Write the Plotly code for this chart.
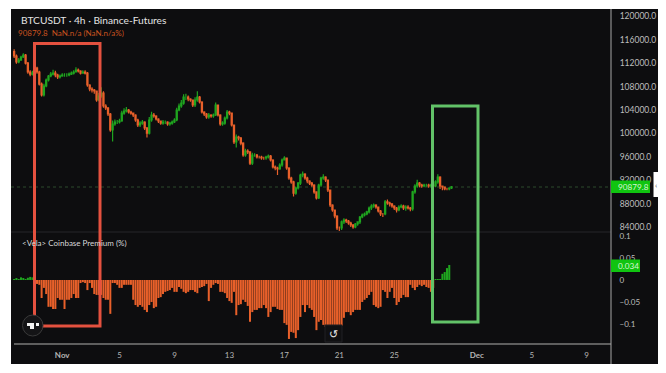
import plotly.graph_objects as go
import pandas as pd

W, H = 666, 373

start_time = "2025-10-28 08:00"
opens = [114000,113240,112220,112560,113070,113410,112040,110510,110160,110330,
 111190,110510,108450,106570,108110,109140,109820,110160,110330,109990,
 109650,109820,109990,109990,109990,110160,110330,110510,110850,110680,
 110330,110510,110330,108280,107600,107430,107260,105720,106400,106910,
 104690,104350,103320,100590,101610,101960,101960,102130,103490,103840,
 104010,103670,103490,103150,102300,101440,101780,101960,100930,100070,
 102300,103150,102980,102470,102130,101780,101960,101960,101610,101780,
 101960,102300,104010,104690,105200,106230,106230,105890,105720,104860,
 105720,106230,105380,103670,103320,102810,103150,102980,103150,104860,
 103150,101610,101780,102640,103670,103490,101440,98540,99390,99220,
 98360,96310,97000,96830,94940,96310,96310,95970,95970,95800,
 95800,95970,96140,95460,94260,94090,93920,94600,95460,95800,
 94090,92380,91700,89810,90670,91520,92890,93060,92380,91870,
 91520,91180,89990,88960,91180,92380,92550,92040,90330,87760,
 86910,85880,83830,83830,84860,85200,85030,84680,84340,84000,
 84510,84860,85710,86050,86220,86570,87250,87590,87760,87420,
 86740,86220,86220,88280,88100,87930,87590,87250,86910,87420,
 87590,87250,87420,87250,87080,89990,91010,91520,91180,91010,
 91180,91180,91010,91180,91010,91700,92550,91010,90840,90500,90500,90670]
closes = [113240,112220,112560,113070,113410,112040,110510,110160,110330,111190,
 110510,108450,106570,108110,109140,109820,110160,110330,109990,109650,
 109820,109990,109990,109990,110160,110330,110510,110850,110680,110330,
 110510,110330,108280,107600,107430,107260,105720,106400,106910,104690,
 104350,103320,100590,101610,101960,101960,102130,103490,103840,104010,
 103670,103490,103150,102300,101440,101780,101960,100930,100070,102300,
 103150,102980,102470,102130,101780,101960,101960,101610,101780,101960,
 102300,104010,104690,105200,106230,106230,105890,105720,104860,105720,
 106230,105380,103670,103320,102810,103150,102980,103150,104860,103150,
 101610,101780,102640,103670,103490,101440,98540,99390,99220,98360,
 96310,97000,96830,94940,96310,96310,95970,95970,95800,95800,
 95970,96140,95460,94260,94090,93920,94600,95460,95800,94090,
 92380,91700,89810,90670,91520,92890,93060,92380,91870,91520,
 91180,89990,88960,91180,92380,92550,92040,90330,87760,86910,
 85880,83830,83830,84860,85200,85030,84680,84340,84000,84510,
 84860,85710,86050,86220,86570,87250,87590,87760,87420,86740,
 86220,86220,88280,88100,87930,87590,87250,86910,87420,87590,
 87250,87420,87250,87080,89990,91010,91520,91180,91010,91180,
 91180,91010,91180,91010,91700,92550,91010,90840,90500,90500,90670,90879.8]
highs = [114400,113500,112900,113300,113700,113600,112200,110800,110700,111600,
 111400,110700,108700,108500,109400,110000,110500,110900,110700,110200,
 110100,110300,110300,110300,110400,110600,110800,111300,111100,110800,
 110800,110800,110500,108400,107900,107600,107300,106900,107900,107200,
 105000,104500,103500,102200,102400,102300,102500,103900,104300,104500,
 104200,103900,103600,103300,102500,102100,102300,102100,101100,102800,
 103700,103500,103100,102600,102200,102300,102200,102100,102000,102200,
 102600,104400,105100,105700,106700,106800,106500,106000,105800,106200,
 107200,106400,105500,103800,103500,103500,103300,103400,105300,104900,
 103300,102100,102900,104000,103900,103600,101500,99800,99600,99400,
 98500,97400,97300,96900,96700,96600,96500,96200,96200,96000,
 96200,96400,96300,95600,94500,94300,94900,95700,96100,95900,
 94200,92600,91900,90900,91700,93100,93500,93200,92600,92000,
 91700,91300,90100,91400,92600,93000,92700,92100,90400,87900,
 87000,86000,84100,85100,85500,85400,85200,84900,84500,84700,
 85000,85900,86300,86500,86800,87500,87900,88000,87900,87500,
 86900,86400,88600,88700,88300,88100,87700,87400,87700,87900,
 87800,87700,87700,87400,90200,91300,92100,91700,91400,91400,
 91400,91400,91400,91300,92000,93000,92700,91100,90900,90700,90800,91000]
lows = [112900,111900,112000,112400,112900,111800,110200,109800,109900,110200,
 110200,108200,106300,106300,107900,108900,109600,109900,109600,109300,
 109400,109700,109700,109700,109800,110000,110100,110400,110400,110100,
 110200,110100,108000,107200,107000,106800,105400,105500,106100,104400,
 104000,103000,100300,98600,101300,101600,101700,102000,103200,103600,
 103400,103200,102800,102000,101100,101100,101500,100600,99300,99800,
 102000,102700,102200,101800,101500,101500,101600,101300,101300,101500,
 101800,102100,103800,104400,104900,105700,105500,105400,104500,104500,
 105400,105100,103400,103000,102500,102500,102700,102700,103000,102900,
 101300,101300,101500,102400,103100,101200,98200,97600,98800,98000,
 96000,96000,96500,94600,94600,96000,95700,95700,95500,95500,
 95500,95700,95200,94000,93700,92900,93800,94300,95400,93800,
 92100,91400,89200,89500,90400,91200,92500,92100,91500,91200,
 90900,89700,88700,88800,90900,92100,91700,90000,87400,86600,
 85500,83500,83300,83500,84500,84700,84400,84000,83700,83800,
 84200,84500,85500,85800,86000,86300,86900,87300,87100,86500,
 85900,85700,86000,87800,87500,87300,86900,86500,86700,87200,
 86900,86800,87000,86700,86800,89700,90700,90800,90700,90800,
 90900,90700,90700,90700,90800,91400,90500,90300,90300,90300,90300,90500]
premium = [0.002,0.003,0.001,0.006,0.004,0.001,0.005,0.007,0.006,
 -0.007,-0.009,-0.011,-0.041,-0.018,-0.032,-0.061,-0.061,-0.066,-0.066,
 -0.041,-0.045,-0.045,-0.066,-0.045,-0.045,-0.041,-0.032,-0.041,-0.041,
 -0.007,-0.005,-0.007,-0.023,-0.007,-0.018,-0.032,-0.034,-0.034,-0.034,
 -0.041,-0.045,-0.045,-0.077,-0.007,-0.007,-0.011,-0.018,-0.018,-0.011,
 -0.011,-0.011,-0.011,-0.045,-0.057,-0.061,-0.057,-0.061,-0.068,-0.073,
 -0.057,-0.050,-0.064,-0.061,-0.041,-0.039,-0.032,-0.027,-0.025,-0.023,
 -0.018,-0.027,-0.027,-0.016,-0.020,-0.027,-0.030,-0.027,-0.023,-0.023,
 -0.027,-0.030,-0.018,-0.016,-0.014,-0.009,-0.048,-0.018,-0.011,-0.007,
 -0.009,-0.027,-0.027,-0.030,-0.041,-0.048,-0.052,-0.027,-0.080,-0.057,
 -0.055,-0.045,-0.050,-0.059,-0.095,-0.073,-0.068,-0.068,-0.064,-0.064,
 -0.057,-0.064,-0.084,-0.073,-0.061,-0.061,-0.066,-0.068,-0.068,-0.098,
 -0.102,-0.134,-0.118,-0.120,-0.132,-0.114,-0.084,-0.057,-0.073,-0.057,
 -0.064,-0.068,-0.084,-0.114,-0.095,-0.091,-0.102,-0.107,-0.104,-0.107,
 -0.104,-0.104,-0.104,-0.104,-0.104,-0.086,-0.073,-0.073,-0.080,-0.073,
 -0.068,-0.068,-0.068,-0.050,-0.045,-0.041,-0.034,-0.027,-0.057,-0.061,
 -0.064,-0.061,-0.023,-0.027,-0.041,-0.027,-0.018,-0.041,-0.057,-0.050,
 -0.041,-0.034,-0.039,-0.039,-0.011,-0.018,-0.023,-0.016,-0.011,-0.014,
 -0.011,-0.016,-0.018,-0.027,-0.018,
 0.002,0.002,0.001,0.014,0.018,0.027,0.034]

price_ticks = [120000,116000,112000,108000,104000,100000,96000,92000,88000,84000]
prem_ticks = [0.1,0.05,0,-0.05,-0.1]
prem_labels = ["0.1","0.05","0","−0.05","−0.1"]
date_ticks = ["2025-10-31 20:00","2025-11-05","2025-11-09","2025-11-13","2025-11-17","2025-11-21","2025-11-25","2025-12-01","2025-12-05","2025-12-09"]
date_labels = ["<b>Nov</b>","5","9","13","17","21","25","<b>Dec</b>","5","9"]

times = pd.date_range(start_time, periods=len(closes), freq="4h")
FONT = "Lato"
UP, DOWN = "#1fa51f", "#e8602a"

def px(x): return x / W
def py(y): return 1 - y / H

fig = go.Figure()
fig.add_trace(go.Candlestick(x=times, open=opens, high=highs, low=lows, close=closes,
    increasing=dict(line=dict(color=UP, width=1.2), fillcolor=UP),
    decreasing=dict(line=dict(color=DOWN, width=1.2), fillcolor=DOWN),
    whiskerwidth=0, yaxis="y", xaxis="x", showlegend=False))
fig.add_trace(go.Bar(x=times, y=premium, marker=dict(color=[UP if v >= 0 else DOWN for v in premium], line=dict(width=0)),
    yaxis="y2", xaxis="x", showlegend=False))

def rect(x0, y0, x1, y1, **kw):
    fig.add_shape(type="rect", xref="paper", yref="paper", x0=px(x0), x1=px(x1), y0=py(y0), y1=py(y1), **kw)
def line(x0, y0, x1, y1, color, width=1, dash="solid", layer="above"):
    fig.add_shape(type="line", xref="paper", yref="paper", x0=px(x0), x1=px(x1), y0=py(y0), y1=py(y1),
                  line=dict(color=color, width=width, dash=dash), layer=layer)
def text(x, y, s, size, color, anchor="left", bg=None, font=FONT):
    fig.add_annotation(xref="paper", yref="paper", x=px(x), y=py(y), text=s, showarrow=False, xanchor=anchor, yanchor="middle",
                       font=dict(family=font, size=size, color=color), bgcolor=bg, borderpad=0)

rect(11, 9, 658, 364, fillcolor="#0d0d0f", line=dict(width=0), layer="below")
line(11, 232, 611, 232, "#26262a", 1, layer="below")
line(11, 187, 611, 187, "#2c4a2c", 1, "dot", layer="below")
line(14, 344, 611, 344, "#7a7a7a", 1.5)
line(611, 9, 611, 364, "#a8a8a8", 1)
# highlight boxes
rect(34.5, 43.5, 100, 326, line=dict(color="#e4513f", width=3))
rect(432.5, 106, 478, 322, line=dict(color="#62c268", width=3))
# price tags
rect(611, 180.5, 650, 193, fillcolor="#10c410", line=dict(width=0))
text(617, 187, "90879.8", 8.2, "#d8f5d4")
rect(611, 259.5, 640, 272, fillcolor="#10c410", line=dict(width=0))
text(617, 265.5, "0.034", 8.2, "#d8f5d4")
# collapse tab
rect(653.5, 172, 658, 197, fillcolor="#ffffff", line=dict(width=0))
text(655.8, 184.5, "‹", 8, "#555555", "center")
# logo
fig.add_shape(type="circle", xref="paper", yref="paper", x0=px(22.5), x1=px(43), y0=py(315), y1=py(336),
              line=dict(color="#3a3a3a", width=1), fillcolor="#141416")
rect(27, 323, 34, 326, fillcolor="#f2f2f2", line=dict(width=0))
rect(30, 323, 34, 329, fillcolor="#f2f2f2", line=dict(width=0))
rect(36, 323, 39, 326, fillcolor="#f2f2f2", line=dict(width=0))
# reset button
rect(325, 325, 342, 342, fillcolor="#101012", line=dict(color="#202024", width=1))
text(333.5, 334, "↺", 11, "#e6e6e6", "center", font="DejaVu Sans")

text(20, 19.5, "BTCUSDT · 4h · Binance-Futures", 10.2, "#e4e4e4")
text(17, 33.5, "90879.8  NaN.n/a (NaN.n/a%)", 8, "#c9531f")
text(21, 243, "&lt;Vela&gt; Coinbase Premium (%)", 8, "#d8d8d8")

fig.update_layout(
    width=W, height=H, margin=dict(l=0, r=0, t=0, b=0), paper_bgcolor="#ffffff", plot_bgcolor="rgba(0,0,0,0)",
    bargap=0.12, showlegend=False, font=dict(family=FONT),
    xaxis=dict(domain=[px(11), px(611)], anchor="y2", range=["2025-10-28 02:32", "2025-12-10 18:30"],
               rangeslider=dict(visible=False), showgrid=False, zeroline=False, showline=False,
               tickmode="array", tickvals=date_ticks, ticktext=date_labels, ticks="outside", ticklen=3,
               tickcolor="rgba(0,0,0,0)", tickfont=dict(size=8, color="#b5b5b5", family=FONT)),
    yaxis=dict(domain=[py(232), py(9)], range=[83145, 121280], side="right", anchor="x", showgrid=False, zeroline=False,
               tickmode="array", tickvals=price_ticks, tickformat=".1f", ticks="outside", ticklen=6,
               tickcolor="rgba(0,0,0,0)", tickfont=dict(size=8.5, color="#bdbdbd", family=FONT)),
    yaxis2=dict(domain=[py(344), py(232)], range=[-0.1455, 0.109], side="right", anchor="x", showgrid=False, zeroline=False,
                tickmode="array", tickvals=prem_ticks, ticktext=prem_labels, ticks="outside", ticklen=6,
                tickcolor="rgba(0,0,0,0)", tickfont=dict(size=8, color="#bdbdbd", family=FONT)),
)
fig.write_html("out.html", config={"displayModeBar": False},
               post_script="document.body.style.margin='0';document.documentElement.style.overflow='hidden';")
